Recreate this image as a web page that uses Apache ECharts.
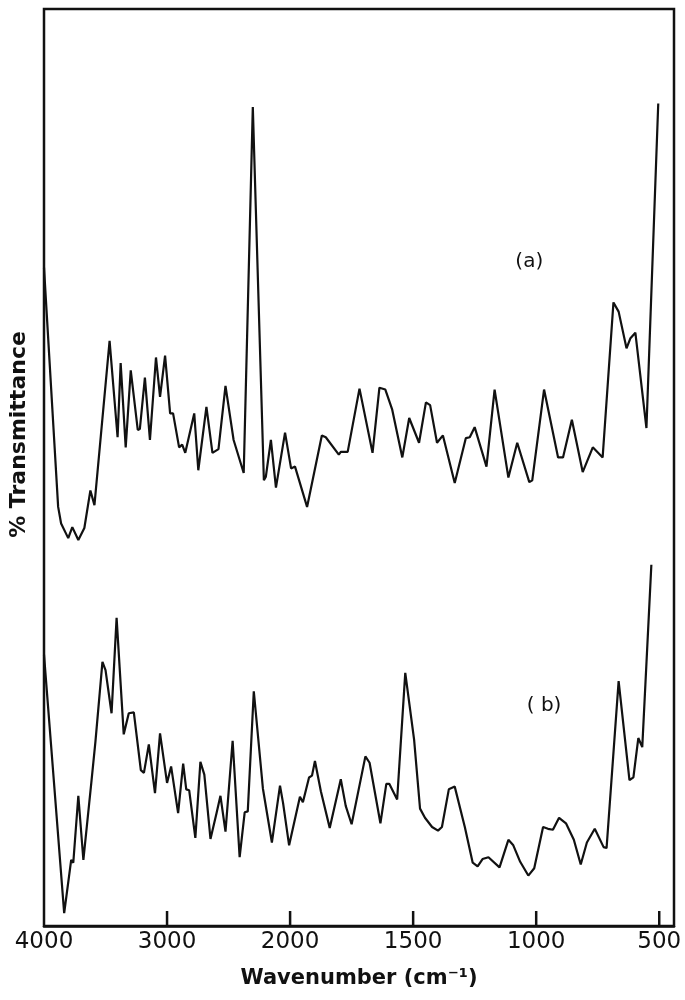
<!DOCTYPE html>
<html>
<head>
<meta charset="utf-8">
<title>IR spectra</title>
<script src="https://cdn.jsdelivr.net/npm/echarts@6/dist/echarts.min.js"></script>
<style>
  html, body { margin: 0; padding: 0; background: #fff; }
  #chart { width: 685px; height: 1000px; }
</style>
</head>
<body>
<div id="chart"></div>
<script>
// wavenumber tick labels (scale doubles below 2000 cm-1)
const tickLabels = [4000, 3000, 2000, 1500, 1000, 500]

// spectrum (a)
const waveA = [4000, 3885, 3861, 3803, 3770, 3721, 3672, 3623, 3590, 3467, 3402, 3377, 3336, 3295, 3238, 3221,
  3180, 3139, 3090, 3057, 3016, 2975, 2951, 2902, 2877, 2852, 2779, 2746, 2680, 2631, 2582, 2525, 2459, 2443,
  2377, 2361, 2303, 2213, 2197, 2156, 2115, 2041, 1996, 1980, 1931, 1871, 1855, 1802, 1794, 1766, 1718, 1665,
  1637, 1613, 1585, 1544, 1516, 1476, 1448, 1431, 1403, 1379, 1331, 1286, 1270, 1250, 1202, 1169, 1113, 1077,
  1028, 1016, 968, 911, 891, 855, 811, 770, 730, 686, 665, 633, 617, 597, 552, 504]
const transA = [71.8, 45.7, 43.9, 42.3, 43.5, 42.1, 43.4, 47.5, 45.9, 63.8, 53.3, 61.4, 52.2, 60.6, 54.1, 54.2,
  59.8, 53.0, 62.0, 57.7, 62.2, 55.9, 55.9, 52.2, 52.5, 51.6, 55.9, 49.7, 56.6, 51.6, 52.0, 58.9, 53.0, 52.8,
  49.4, 49.5, 89.3, 48.6, 49.0, 53.0, 47.8, 53.8, 49.9, 50.1, 45.7, 53.5, 53.3, 51.4, 51.7, 51.7, 58.6, 51.6,
  58.7, 58.5, 56.3, 51.1, 55.4, 52.7, 57.1, 56.8, 52.7, 53.5, 48.3, 53.2, 53.3, 54.4, 50.1, 58.5, 48.9, 52.7,
  48.4, 48.6, 58.5, 51.1, 51.1, 55.2, 49.5, 52.2, 51.1, 68.0, 67.0, 63.0, 64.1, 64.7, 54.3, 89.7]

// spectrum (b)
const waveB = [4000, 3836, 3779, 3762, 3721, 3680, 3615, 3582, 3525, 3500, 3451, 3410, 3352, 3311, 3270, 3213,
  3188, 3148, 3098, 3057, 3000, 2967, 2910, 2869, 2844, 2820, 2770, 2729, 2697, 2647, 2598, 2566, 2525, 2467,
  2410, 2369, 2344, 2295, 2221, 2205, 2148, 2082, 2057, 2008, 1960, 1948, 1923, 1911, 1899, 1875, 1839, 1794,
  1774, 1750, 1694, 1677, 1633, 1609, 1597, 1565, 1532, 1496, 1472, 1452, 1423, 1399, 1383, 1355, 1331, 1290,
  1258, 1238, 1218, 1194, 1149, 1113, 1093, 1065, 1032, 1008, 972, 952, 932, 907, 879, 847, 819, 794, 762, 726,
  714, 665, 621, 605, 585, 569, 532]
const transB = [29.6, 1.4, 7.2, 6.9, 14.2, 7.2, 15.7, 20.1, 28.8, 27.9, 23.2, 33.6, 20.9, 23.2, 23.3, 17.0,
  16.7, 19.8, 14.5, 21.0, 15.6, 17.4, 12.3, 17.7, 14.9, 14.8, 9.6, 17.9, 16.5, 9.5, 12.3, 14.2, 10.3, 20.2,
  7.5, 12.4, 12.5, 25.6, 15.0, 15.0, 9.1, 15.3, 13.4, 8.8, 14.1, 13.5, 16.2, 16.4, 18.0, 14.7, 10.7, 16.0,
  13.1, 11.1, 18.5, 17.8, 11.2, 15.5, 15.5, 13.8, 27.6, 20.3, 12.8, 11.8, 10.8, 10.4, 10.8, 14.9, 15.2, 10.8,
  6.9, 6.5, 7.3, 7.5, 6.4, 9.4, 8.8, 7.0, 5.5, 6.3, 10.8, 10.6, 10.5, 11.8, 11.2, 9.4, 6.7, 9.1, 10.6, 8.6,
  8.5, 26.7, 15.9, 16.2, 20.5, 19.5, 39.4]

// position along the axis: 1 unit per 1000 cm-1 above 2000, per 500 cm-1 below
function toAxis(w) {
  return w >= 2000 ? (4000 - w) / 1000 : 2 + (2000 - w) / 500
}
function fromAxis(t) {
  return t <= 2 ? 4000 - t * 1000 : 2000 - (t - 2) * 500
}
function pairs(waves, values) {
  return waves.map((w, i) => [toAxis(w), values[i]])
}

const font = '"DejaVu Sans", sans-serif'

function tag(text, w, v) {
  return {
    symbol: 'circle',
    symbolSize: 1,
    itemStyle: { color: 'rgba(0,0,0,0)' },
    label: { show: true, position: 'inside', formatter: text, color: '#111', fontSize: 20, fontFamily: font },
    data: [{ coord: [toAxis(w), v] }]
  }
}

const chart = echarts.init(document.getElementById('chart'))
chart.setOption({
  animation: false,
  backgroundColor: '#fff',
  grid: {
    left: 43,
    right: 11,
    top: 9,
    bottom: 74,
    show: true,
    borderColor: '#111',
    borderWidth: 2.5
  },
  xAxis: {
    type: 'value',
    min: 0,
    max: toAxis(440),
    interval: 1,
    name: 'Wavenumber (cm\u207B\u00B9)',
    nameLocation: 'middle',
    nameGap: 42,
    nameTextStyle: { color: '#111', fontSize: 21, fontWeight: 'bold', fontFamily: font },
    axisLine: { show: true, onZero: false, lineStyle: { color: '#111', width: 2.5 } },
    axisTick: { show: false },
    axisLabel: {
      color: '#111',
      fontSize: 23,
      fontFamily: font,
      margin: 5,
      showMaxLabel: false,
      formatter: t => tickLabels.indexOf(Math.round(fromAxis(t))) >= 0 ? String(Math.round(fromAxis(t))) : ''
    },
    splitLine: { show: false }
  },
  yAxis: {
    type: 'value',
    min: 0,
    max: 100,
    name: '% Transmittance',
    nameLocation: 'middle',
    nameGap: 14,
    nameTextStyle: { color: '#111', fontSize: 22, fontWeight: 'bold', fontFamily: font, padding: [0, 0, 0, 66] },
    axisLine: { show: false },
    axisTick: { show: false },
    axisLabel: { show: false },
    splitLine: { show: false }
  },
  series: [
    {
      name: '(a)',
      type: 'line',
      data: pairs(waveA, transA),
      showSymbol: false,
      lineStyle: { color: '#111', width: 2.2 },
      markPoint: tag('(a)', 1028, 72.4)
    },
    {
      name: '(b)',
      type: 'line',
      data: pairs(waveB, transB),
      showSymbol: false,
      lineStyle: { color: '#111', width: 2.2 },
      markPoint: tag('( b)', 968, 24.0)
    }
  ]
})

// inside tick marks placed through the axis scale
const tickGraphics = tickLabels.slice(1).map(w => {
  const p = chart.convertToPixel({ gridIndex: 0 }, [toAxis(w), 0])
  return {
    type: 'line',
    shape: { x1: p[0], y1: p[1], x2: p[0], y2: p[1] - 15 },
    style: { stroke: '#111', lineWidth: 2.5 },
    z: 10
  }
})
chart.setOption({ graphic: tickGraphics })
</script>
</body>
</html>
